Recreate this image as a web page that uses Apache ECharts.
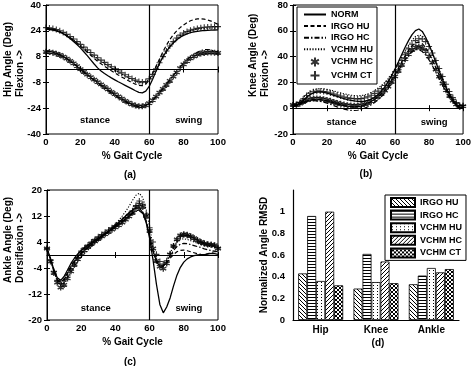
<!DOCTYPE html>
<html><head><meta charset="utf-8">
<script src="https://cdn.jsdelivr.net/npm/echarts@6/dist/echarts.min.js"></script>
<style>html,body{margin:0;padding:0;background:#fff}#c{width:474px;height:366px}</style>
</head><body><div id="c"></div>
<script>
// ---------- data ----------
const gaitPct = [0,2,4,6,8,10,12,14,16,18,20,22,24,26,28,30,32,34,36,38,40,42,44,46,48,50,52,54,56,58,60,62,64,66,68,70,72,74,76,78,80,82,84,86,88,90,92,94,96,98,100];
const seriesNames = ['NORM','IRGO HU','IRGO HC','VCHM HU','VCHM HC','VCHM CT'];

const hipNorm   = [25.0,24.8,24.5,24.0,23.2,22.2,20.8,19.2,17.4,15.5,13.4,11.0,8.6,6.0,3.4,1.0,-0.9,-2.5,-3.9,-5.2,-6.4,-7.6,-8.7,-9.8,-10.9,-12.0,-13.2,-14.2,-14.5,-13.4,-10.5,-6.0,-1.0,3.8,7.8,11.2,14.0,16.4,18.4,20.0,21.2,22.1,22.8,23.3,23.7,24.0,24.2,24.3,24.4,24.5,24.6];
const hipIrgoHu = [25.5,25.3,25.0,24.4,23.6,22.5,21.2,19.7,18.0,16.3,14.5,12.6,10.7,8.8,6.9,5.1,3.5,2.0,0.6,-0.8,-2.1,-3.4,-4.6,-5.8,-7.0,-8.1,-9.1,-9.8,-10.0,-9.0,-6.5,-2.5,2.0,6.5,11.0,15.0,18.6,21.6,24.0,26.0,27.6,29.0,30.2,31.0,31.4,31.4,31.2,30.7,30.0,29.0,28.0];
const hipIrgoHc = [11.5,11.2,10.8,10.1,9.2,8.1,6.8,5.3,3.7,2.0,0.2,-1.6,-3.4,-5.1,-6.7,-8.3,-9.9,-11.5,-13.0,-14.5,-15.9,-17.3,-18.6,-19.9,-21.0,-21.9,-22.6,-23.0,-23.0,-22.3,-20.9,-19.0,-16.8,-14.3,-11.8,-9.2,-6.5,-3.8,-1.0,1.6,4.0,6.1,7.9,9.4,10.7,11.7,12.3,12.4,12.0,11.4,11.0];
const hipVchmHu = [25.5,25.3,24.9,24.3,23.5,22.5,21.3,19.9,18.4,16.8,15.1,13.4,11.7,10.0,8.3,6.7,5.2,3.8,2.4,1.1,-0.2,-1.5,-2.8,-4.0,-5.2,-6.3,-7.3,-8.1,-8.4,-7.8,-6.0,-3.0,0.6,4.4,8.2,11.6,14.6,17.2,19.4,21.1,22.4,23.4,24.1,24.6,25.0,25.3,25.5,25.6,25.7,25.7,25.7];
const hipVchmHc = [11.0,10.8,10.4,9.8,9.0,8.0,6.8,5.4,3.8,2.1,0.3,-1.5,-3.2,-4.8,-6.3,-7.8,-9.3,-10.8,-12.3,-13.8,-15.2,-16.6,-18.0,-19.4,-20.6,-21.6,-22.4,-22.8,-22.8,-22.2,-20.8,-19.0,-16.8,-14.4,-12.0,-9.6,-7.0,-4.4,-1.8,0.8,3.2,5.2,6.9,8.2,9.2,9.9,10.3,10.5,10.5,10.4,10.3];
const hipVchmCt = [26.0,25.8,25.4,24.8,24.0,23.0,21.8,20.4,18.9,17.3,15.6,13.9,12.2,10.5,8.9,7.3,5.8,4.4,3.0,1.7,0.4,-0.9,-2.1,-3.3,-4.5,-5.6,-6.6,-7.4,-7.8,-7.4,-5.8,-3.0,0.4,4.2,8.0,11.5,14.6,17.3,19.5,21.3,22.6,23.6,24.4,25.0,25.5,25.9,26.2,26.4,26.5,26.6,26.6];

const kneeNorm   = [2.0,2.5,4.0,6.0,8.5,10.5,11.8,12.5,12.6,12.3,11.7,10.9,10.0,9.1,8.2,7.4,6.7,6.1,5.6,5.3,5.2,5.4,6.0,7.0,8.5,10.5,13.2,16.6,20.6,25.2,30.4,36.0,41.8,47.4,52.6,57.0,60.2,61.4,59.5,55.0,49.2,42.6,35.6,28.6,22.0,16.0,10.6,6.0,2.4,-0.6,1.0];
const kneeIrgoHu = [2.0,2.2,3.0,4.4,5.6,6.4,6.8,6.9,6.7,6.3,5.7,5.0,4.2,3.4,2.7,2.0,1.5,1.2,1.1,1.3,1.8,2.6,3.7,5.1,6.8,8.8,11.2,14.0,17.4,21.4,26.0,31.0,36.0,40.8,45.0,48.4,50.6,51.2,50.0,47.0,42.6,37.2,31.4,25.4,19.6,14.2,9.4,5.4,2.4,0.8,1.2];
const kneeIrgoHc = [2.0,2.0,2.8,4.0,5.0,5.6,5.8,5.7,5.3,4.7,3.9,3.0,2.0,1.0,0.1,-0.7,-1.3,-1.7,-1.8,-1.6,-1.0,-0.1,1.1,2.6,4.4,6.5,9.0,12.0,15.6,19.8,24.4,29.0,33.6,37.8,41.4,44.0,45.4,45.4,44.0,41.2,37.4,32.8,27.8,22.6,17.6,12.8,8.6,5.0,2.2,0.4,0.8];
const kneeVchmHu = [2.5,3.0,5.0,8.0,10.8,12.8,14.2,14.9,15.1,15.0,14.6,14.0,13.3,12.6,11.9,11.2,10.6,10.1,9.8,9.7,9.8,10.2,11.0,12.2,13.8,15.6,17.6,20.0,23.0,26.5,30.5,35.0,39.8,44.6,49.0,52.8,55.6,56.8,56.0,53.2,48.6,42.8,36.4,29.8,23.4,17.4,12.0,7.4,3.8,1.6,1.5];
const kneeVchmHc = [2.5,2.6,3.5,5.0,6.3,7.1,7.5,7.6,7.4,7.0,6.4,5.7,4.9,4.1,3.4,2.8,2.3,2.0,1.9,2.0,2.4,3.1,4.1,5.4,7.0,8.9,11.1,13.7,16.8,20.4,24.6,29.0,33.6,38.0,42.0,45.2,47.2,47.8,46.8,44.2,40.2,35.4,30.0,24.4,19.0,14.0,9.6,5.8,3.0,1.4,1.6];
const kneeVchmCt = [2.5,2.8,4.5,7.2,9.8,11.6,12.7,13.2,13.3,13.0,12.5,11.8,11.0,10.2,9.4,8.7,8.1,7.6,7.3,7.2,7.4,7.9,8.8,10.0,11.5,13.2,15.2,17.6,20.6,24.2,28.2,32.6,37.2,41.8,46.0,49.6,52.4,53.8,53.6,51.6,47.8,42.8,37.0,30.8,24.6,18.6,13.0,8.2,4.4,2.2,2.0];

const ankleNorm   = [2.0,-1.0,-4.5,-7.0,-7.8,-6.6,-4.6,-2.6,-1.0,0.3,1.4,2.3,3.1,3.8,4.5,5.2,5.9,6.6,7.4,8.2,9.1,10.0,11.0,12.0,13.0,13.8,14.4,14.6,13.0,10.0,5.2,-1.5,-9.0,-15.2,-17.8,-16.0,-13.2,-9.5,-6.2,-3.8,-2.2,-1.2,-0.6,-0.2,0.0,0.1,0.1,0.3,0.5,0.4,0.2];
const ankleIrgoHu = [2.0,-1.2,-4.8,-7.5,-8.4,-7.4,-5.4,-3.4,-1.8,-0.5,0.6,1.5,2.3,3.1,3.9,4.7,5.5,6.3,7.1,7.9,8.7,9.5,10.3,11.1,12.0,12.9,13.6,13.9,13.2,10.6,6.4,1.4,-2.0,-3.4,-3.4,-2.4,-1.0,0.2,1.0,1.4,1.5,1.3,1.0,0.7,0.4,0.2,0.1,0.4,0.8,1.0,1.0];
const ankleIrgoHc = [2.0,-1.4,-5.0,-7.8,-8.8,-7.8,-5.8,-3.8,-2.1,-0.7,0.5,1.5,2.4,3.2,4.0,4.8,5.6,6.4,7.2,8.0,8.8,9.6,10.4,11.2,12.0,12.8,13.4,13.6,12.8,10.2,6.0,1.2,-2.2,-3.6,-3.4,-2.0,-0.2,1.4,2.6,3.3,3.6,3.5,3.2,2.9,2.6,2.3,1.9,1.6,1.4,1.2,1.0];
const ankleVchmHu = [2.0,-1.5,-5.0,-8.0,-9.2,-8.6,-7.0,-5.2,-3.5,-2.0,-0.7,0.4,1.5,2.5,3.5,4.5,5.4,6.3,7.3,8.4,9.5,10.7,12.0,13.4,15.0,16.8,18.4,19.0,17.6,14.0,8.6,2.6,-1.6,-3.4,-3.2,-1.6,0.6,2.6,4.0,4.8,5.0,4.8,4.4,4.0,3.6,3.2,2.9,2.7,2.6,2.4,2.2];
const ankleVchmHc = [2.0,-2.0,-5.5,-8.5,-10.0,-9.2,-7.2,-5.0,-3.0,-1.3,0.4,1.5,2.5,3.4,4.2,5.0,5.7,6.4,7.1,7.8,8.5,9.2,10.0,10.9,11.9,13.0,14.6,15.6,14.8,12.0,7.4,2.0,-1.8,-3.6,-4.2,-2.6,0.2,2.8,4.8,6.0,6.4,6.2,5.8,5.2,4.6,4.0,3.6,3.3,3.2,3.0,2.0];
const ankleVchmCt = [2.0,-1.5,-5.0,-7.8,-8.8,-8.0,-6.2,-4.2,-2.4,-0.8,1.2,2.2,3.1,4.0,4.8,5.6,6.3,7.0,7.7,8.4,9.1,9.8,10.6,11.5,12.5,13.6,15.2,16.6,15.6,12.6,8.4,4.0,0.2,-2.0,-2.8,-1.8,0.4,2.8,4.6,5.8,6.2,6.0,5.6,5.0,4.4,3.9,3.5,3.2,3.1,2.9,2.2];

const jointCategories = ['Hip','Knee','Ankle'];
const rmsdNames = ['IRGO HU','IRGO HC','VCHM HU','VCHM HC','VCHM CT'];
const rmsdIrgoHu = [0.43,0.29,0.33];
const rmsdIrgoHc = [0.96,0.61,0.41];
const rmsdVchmHu = [0.36,0.35,0.48];
const rmsdVchmHc = [1.00,0.54,0.44];
const rmsdVchmCt = [0.32,0.34,0.47];

const gaitTicks  = [0,20,40,60,80,100];
const hipTicks   = [-40,-24,-8,8,24,40];
const kneeTicks  = [-20,0,20,40,60,80];
const ankleTicks = [-20,-12,-4,4,12,20];
const rmsdTicks  = [0,0.2,0.4,0.6,0.8,1];

// ---------- styling ----------
const FONT = '"Liberation Sans", Arial, sans-serif';
const tickFont = {color:'#000', fontSize:9.5, fontWeight:'bold', fontFamily:FONT};
const titleFont = {color:'#000', fontSize:10, fontWeight:'bold', fontFamily:FONT};

const ASTER = 'path://M5,0L5,10M0.67,2.5L9.33,7.5M0.67,7.5L9.33,2.5';
const PLUS  = 'path://M5,0L5,10M0,5L10,5';

function styleFor(idx){
  const base = {color:'#000'};
  switch(idx){
    case 0: return {type:'line', symbol:'none', lineStyle:{color:'#000', width:1.3, type:'solid'}, itemStyle:base};
    case 1: return {type:'line', symbol:'none', lineStyle:{color:'#000', width:1.2, type:[4,2.5]}, itemStyle:base};
    case 2: return {type:'line', symbol:'none', lineStyle:{color:'#000', width:1.2, type:[5,2,1.5,2]}, itemStyle:base};
    case 3: return {type:'line', symbol:'none', lineStyle:{color:'#000', width:1.1, type:[1.2,1.6]}, itemStyle:base};
    case 4: return {type:'scatter', symbol:ASTER, symbolSize:6, itemStyle:{color:'#000', borderColor:'#000', borderWidth:1.4}};
    case 5: return {type:'scatter', symbol:PLUS, symbolSize:6, itemStyle:{color:'#000', borderColor:'#000', borderWidth:1.1}};
  }
}

const panels = [
  {values:[hipNorm,hipIrgoHu,hipIrgoHc,hipVchmHu,hipVchmHc,hipVchmCt], ticks:hipTicks, min:-40, max:40, labelY:-31.4, grid:{left:46, top:3, width:172, height:131}},
  {values:[kneeNorm,kneeIrgoHu,kneeIrgoHc,kneeVchmHu,kneeVchmHc,kneeVchmCt], ticks:kneeTicks, min:-20, max:80, labelY:-10.7, grid:{left:293, top:3, width:172, height:131}},
  {values:[ankleNorm,ankleIrgoHu,ankleIrgoHc,ankleVchmHu,ankleVchmHc,ankleVchmCt], ticks:ankleTicks, min:-20, max:20, labelY:-16.4, grid:{left:47, top:190, width:171, height:130}}
];

function hatch(kind){
  const s = kind==='h' ? 3 : (kind==='dot' ? 6 : 4);
  const c = document.createElement('canvas'); c.width = (kind==='dot' ? 4 : s); c.height = s;
  const g = c.getContext('2d');
  g.fillStyle = '#fff'; g.fillRect(0,0,c.width,c.height); g.fillStyle = '#000';
  for(let x=0;x<c.width;x++) for(let y=0;y<c.height;y++){
    let on = false;
    if(kind==='back') on = ((x - y + s) % s) === 0;
    if(kind==='fwd') on = ((x + y) % s) === s-1;
    if(kind==='h') on = y === 0;
    if(kind==='dot') on = x === 1 && y % 3 === 0;
    if(kind==='cross') on = ((x + y) % s) === s-1 || ((x - y + s) % s) === 0;
    if(on) g.fillRect(x,y,1,1);
  }
  return {image:c, repeat:'repeat'};
}
const barFills = [hatch('back'), hatch('h'), hatch('dot'), hatch('fwd'), hatch('cross')];
const barValues = [rmsdIrgoHu, rmsdIrgoHc, rmsdVchmHu, rmsdVchmHc, rmsdVchmCt];

// ---------- axes ----------
const grids = panels.map(p => Object.assign({show:true, borderColor:'#000', borderWidth:1, backgroundColor:'transparent'}, p.grid));
grids.push({left:293, top:190, width:166, height:130, show:false});

const xAxes = [], yAxes = [];
panels.forEach((p,i) => {
  xAxes.push({type:'value', gridIndex:i, min:0, max:100, position:'bottom',
    axisLine:{show:true, lineStyle:{color:'#000'}},
    axisTick:{inside:true, length:3, customValues:gaitTicks, lineStyle:{color:'#000'}},
    axisLabel:Object.assign({customValues:gaitTicks, margin:3}, tickFont),
    splitLine:{show:false},
    name:'% Gait Cycle', nameLocation:'middle', nameGap:17, nameTextStyle:titleFont});
  yAxes.push({type:'value', gridIndex:i, min:p.min, max:p.max, position:'left',
    axisLine:{show:true, lineStyle:{color:'#000'}},
    axisTick:{inside:true, length:3, customValues:p.ticks, lineStyle:{color:'#000'}},
    axisLabel:Object.assign({customValues:p.ticks, margin:5}, tickFont),
    splitLine:{show:false}});
});
xAxes.push({type:'category', gridIndex:3, data:jointCategories,
  axisLine:{show:true, lineStyle:{color:'#000', width:1.2}}, axisTick:{show:false},
  axisLabel:Object.assign({margin:5}, titleFont)});
yAxes.push({type:'value', gridIndex:3, min:0, max:1.2,
  axisLine:{show:true, lineStyle:{color:'#000', width:1.2}}, axisTick:{show:false},
  axisLabel:Object.assign({customValues:rmsdTicks, margin:8}, tickFont),
  splitLine:{show:false}});
panels.forEach((p,i) => {
  xAxes.push({type:'value', gridIndex:i, min:0, max:100, position:'top',
    axisLine:{show:false}, axisTick:{inside:true, length:3, customValues:gaitTicks, lineStyle:{color:'#000'}},
    axisLabel:{show:false}, splitLine:{show:false}});
  yAxes.push({type:'value', gridIndex:i, min:p.min, max:p.max, position:'right',
    axisLine:{show:false}, axisTick:{inside:true, length:3, customValues:p.ticks, lineStyle:{color:'#000'}},
    axisLabel:{show:false}, splitLine:{show:false}});
});

// ---------- series ----------
const series = [];
panels.forEach((p,i) => {
  p.values.forEach((arr,k) => {
    const s = Object.assign({name:seriesNames[k], xAxisIndex:i, yAxisIndex:i,
      data:gaitPct.map((x,j)=>[x, arr[j]]), silent:true, z: k>=4 ? 3 : 2}, styleFor(k));
    if(k===0){
      s.markLine = {silent:true, symbol:['none','none'], label:{show:false},
        lineStyle:{color:'#000', width:1.2, type:'solid'},
        data:[{yAxis:0},{xAxis:60}]};
      s.markPoint = {silent:true, symbol:'circle', symbolSize:0,
        label:{show:true, position:'inside', formatter:'{b}', color:'#000', fontSize:9.5, fontWeight:'bold', fontFamily:FONT},
        data:[{name:'stance', coord:[28.5, p.labelY]}, {name:'swing', coord:[83, p.labelY]}]};
    }
    series.push(s);
  });
});
rmsdNames.forEach((n,k) => {
  series.push({type:'bar', name:'RMSD '+n, xAxisIndex:3, yAxisIndex:3, data:barValues[k],
    barWidth:9, barGap:'0%', silent:true,
    itemStyle:{color:barFills[k], borderColor:'#000', borderWidth:0.8}});
});

const lineLegendData = seriesNames.map((n,k) => k<4 ? {name:n, itemStyle:{opacity:0}} : {name:n});

const option = {
  animation:false,
  textStyle:{fontFamily:FONT},
  grid:grids, xAxis:xAxes, yAxis:yAxes, series:series,
  legend:[
    {data:lineLegendData, orient:'vertical', left:297, top:7, itemWidth:22, itemHeight:9, itemGap:2.6,
     padding:[3,4,3,6], borderColor:'#000', borderWidth:1, backgroundColor:'#fff', selectedMode:false,
     textStyle:{color:'#000', fontSize:9, fontWeight:'bold', fontFamily:FONT}},
    {data:rmsdNames.map(n=>'RMSD '+n), formatter:n=>n.replace('RMSD ',''), icon:'rect',
     orient:'vertical', left:385, top:195, itemWidth:24, itemHeight:9, itemGap:1.6,
     padding:[2,4,2,5], borderColor:'#000', borderWidth:1, backgroundColor:'#fff', selectedMode:false,
     textStyle:{color:'#000', fontSize:9, fontWeight:'bold', fontFamily:FONT}}
  ],
  graphic:[
    {type:'text', x:2, y:97, rotation:Math.PI/2, silent:true,
     style:{text:'Hip Angle (Deg)\nFlexion ->', fill:'#000', font:'bold 10px '+FONT, lineHeight:12, textAlign:'left', textVerticalAlign:'top', align:'left', verticalAlign:'top'}},
    {type:'text', x:247, y:97, rotation:Math.PI/2, silent:true,
     style:{text:'Knee Angle (Deg)\nFlexion ->', fill:'#000', font:'bold 10px '+FONT, lineHeight:12, textAlign:'left', textVerticalAlign:'top', align:'left', verticalAlign:'top'}},
    {type:'text', x:2, y:283, rotation:Math.PI/2, silent:true,
     style:{text:'Ankle Angle (Deg)\nDorsiflexion ->', fill:'#000', font:'bold 10px '+FONT, lineHeight:12, textAlign:'left', textVerticalAlign:'top', align:'left', verticalAlign:'top'}},
    {type:'text', x:259, y:255, rotation:Math.PI/2, silent:true,
     style:{text:'Normalized Angle RMSD', fill:'#000', font:'bold 10px '+FONT, textAlign:'center', textVerticalAlign:'top', align:'center', verticalAlign:'top'}},
    {type:'text', x:130, y:175, silent:true, style:{text:'(a)', fill:'#000', font:'bold 10px '+FONT, textAlign:'center', textVerticalAlign:'middle', align:'center', verticalAlign:'middle'}},
    {type:'text', x:366, y:174, silent:true, style:{text:'(b)', fill:'#000', font:'bold 10px '+FONT, textAlign:'center', textVerticalAlign:'middle', align:'center', verticalAlign:'middle'}},
    {type:'text', x:130, y:362, silent:true, style:{text:'(c)', fill:'#000', font:'bold 10px '+FONT, textAlign:'center', textVerticalAlign:'middle', align:'center', verticalAlign:'middle'}},
    {type:'text', x:378, y:343, silent:true, style:{text:'(d)', fill:'#000', font:'bold 10px '+FONT, textAlign:'center', textVerticalAlign:'middle', align:'center', verticalAlign:'middle'}}
  ]
};
const chart = echarts.init(document.getElementById('c'), null, {renderer:'canvas'});
chart.setOption(option);
</script>
</body></html>
